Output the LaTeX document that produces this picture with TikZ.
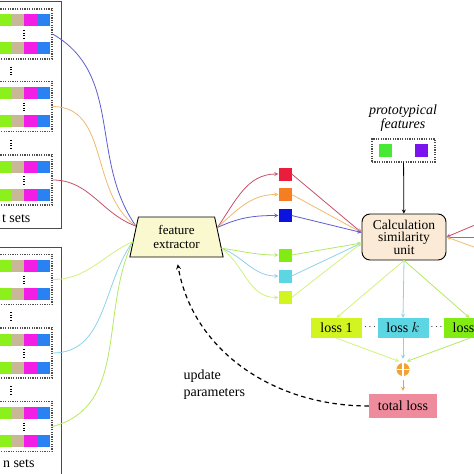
\documentclass[tikz,border=0pt]{standalone}
\usepackage{fontspec}
\setmainfont{Liberation Serif}
\usetikzlibrary{positioning}
\usetikzlibrary{arrows,shapes}
\usetikzlibrary{shapes.geometric}
\definecolor{barGreen}{HTML}{8CF01C}
\definecolor{barTan}{HTML}{C9B897}
\definecolor{barPink}{HTML}{F21EE6}
\definecolor{barBlue}{HTML}{2A82F2}
\definecolor{sqRed}{HTML}{EA1E3C}
\definecolor{sqOrange}{HTML}{F67E22}
\definecolor{sqBlue}{HTML}{0C12E0}
\definecolor{sqGreen}{HTML}{82EC12}
\definecolor{sqCyan}{HTML}{5CD6E2}
\definecolor{sqLime}{HTML}{D2F522}
\definecolor{lnRed}{HTML}{C8506A}
\definecolor{lnOrange}{HTML}{F2B86E}
\definecolor{lnBlue}{HTML}{5C5CD2}
\definecolor{lnLime}{HTML}{D2F07C}
\definecolor{lnCyan}{HTML}{8ED2EA}
\definecolor{lnGreen}{HTML}{B4E860}
\definecolor{lnPurple}{HTML}{7A6CE6}
\definecolor{extFill}{HTML}{FAF8CF}
\definecolor{csuFill}{HTML}{FBEBD6}
\definecolor{lossPink}{HTML}{EE8C9E}
\definecolor{protoGreen}{HTML}{46EA34}
\definecolor{protoPurple}{HTML}{7A14EE}
\definecolor{plusOrange}{HTML}{F2A234}
\tikzstyle{setframe}=[draw=black!70,line width=0.9pt]
\tikzstyle{setgroup}=[draw=black!70,dash pattern=on 1.2pt off 1.2pt,line width=1.2pt,minimum width=58pt,minimum height=50pt,inner sep=0pt]
\tikzstyle{vdots}=[line width=1.3pt,dash pattern=on 1.2pt off 1.4pt]
\tikzstyle{featsq}=[rectangle,minimum size=13pt,inner sep=0pt]
\tikzstyle{extractor}=[trapezium,trapezium left angle=78,trapezium right angle=78,draw,line width=0.9pt,fill=extFill,minimum height=40pt,minimum width=79pt,inner sep=1pt,align=center,font=\fontsize{13}{14}\selectfont]
\tikzstyle{calcunit}=[rectangle,rounded corners=8pt,draw,line width=0.9pt,fill=csuFill,minimum width=84pt,minimum height=46pt,inner sep=0pt,align=center,font=\fontsize{13.5}{12.5}\selectfont]
\tikzstyle{lossbox}=[rectangle,minimum width=51pt,minimum height=20pt,inner sep=0pt,font=\fontsize{14}{16}\selectfont]
\tikzstyle{txt}=[font=\fontsize{14}{17}\selectfont]
\tikzstyle{link}=[draw,line width=0.8pt]
\tikzstyle{flow}=[draw,line width=0.8pt,->,>=stealth]

\begin{document}
\begin{tikzpicture}[x=1pt,y=-1pt]
\useasboundingbox (0,0) rectangle (474,474);
\clip (0,0) rectangle (474,474);

% sets on the left (cut by the crop)
    \draw[setframe] (-10,1) rectangle (61,228);
    \draw[setframe] (-10,247) rectangle (61,490);
    \node[txt,anchor=base west] (topSets) at (-1.5,222) {t sets};
    \node[txt,anchor=base west] (botSets) at (-0.5,467) {n sets};

  \foreach \y in {14,42,87,115,161,189,260,288,334,362,407,435} {
        \fill[barGreen] (-10,\y) rectangle (12,\y+12);
        \fill[barTan] (12,\y) rectangle (24,\y+12);
        \fill[barPink] (24,\y) rectangle (37,\y+12);
        \fill[barBlue] (37,\y) rectangle (50,\y+12);
  }

  \foreach \pos/\name in {{(23,34)/s1}, {(23,106.5)/s2}, {(23,180)/s3}, {(23,279.5)/q1}, {(23,353)/q2}, {(23,426.5)/q3}}
        \node[setgroup] (\name) at \pos {};

  \foreach \y in {34,106.5,180,279.5,353,426.5}
        \draw[vdots] (24,\y-4) -- (24,\y+4);
  \foreach \y in {70.5,144,316,390}
        \draw[vdots] (11,\y-4) -- (11,\y+4);

% extractor and features
    \node[extractor] (fe) at (176.5,237) {feature\\extractor};

  \foreach \pos/\name/\col in {{(285,174)/fR/sqRed}, {(285,194.5)/fO/sqOrange}, {(285,215.5)/fB/sqBlue}, {(285,255)/fG/sqGreen}, {(285,276)/fC/sqCyan}, {(285,297.5)/fL/sqLime}}
        \node[featsq,fill=\col] (\name) at \pos {};

    % sets into the extractor
  \foreach \source/\dest/\col/\o/\i in {s1.east/fe.165/lnBlue/-30/125, s2.east/fe.165/lnOrange/0/145, s3.east/fe.165/lnRed/0/160, q1.east/fe.186/lnLime/0/205, q2.east/fe.186/lnCyan/0/235, q3.east/fe.186/lnGreen/15/245}
          \path[link,\col] (\source) to[out=\o,in=\i] (\dest);

    % extractor to feature squares
  \foreach \source/\dest/\col/\o in {fe.13/fR/lnRed/55, fe.13/fO/lnOrange/42, fe.13/fB/lnBlue/25, fe.-14/fG/lnGreen/-8, fe.-14/fC/lnCyan/-22, fe.-14/fL/lnLime/-38}
          \path[flow,\col] (\source) to[out=\o,in=180] (\dest.west);

% similarity unit
    \node[calcunit] (csu) at (404,237) {Calculation\\similarity\\unit};

    \node[draw=black!70,dash pattern=on 1.2pt off 1.2pt,line width=1.2pt,minimum width=63pt,minimum height=23pt] (proto) at (403.5,150.5) {};
    \node[featsq,fill=protoGreen] (pG) at (385,150.5) {};
    \node[featsq,fill=protoPurple] (pP) at (421.5,150.5) {};
    \node[align=center,font=\fontsize{14}{12}\selectfont\itshape] (protoLbl) at (403,118) {prototypical\\features};
    \path[flow,black] (proto) -- (csu);

  \foreach \source/\dest/\col in {fR/csu.174/lnRed, fO/csu.174/lnOrange, fB/csu.174/lnBlue, fG/csu.188/lnGreen, fC/csu.188/lnCyan, fL/csu.188/lnLime}
          \path[flow,\col] (\source.east) -- (\dest);

    % from the other branch (cut by the crop)
    \coordinate (oR) at (482,222);
    \coordinate (oP) at (482,237);
    \coordinate (oO) at (482,250);
  \foreach \source/\col in {oR/lnRed, oP/lnPurple, oO/lnOrange}
          \path[flow,\col] (\source) -- (csu.east);

% losses
    \node[lossbox,fill=sqLime] (loss1) at (336.5,328) {loss 1};
    \node[lossbox,fill=sqCyan] (lossk) at (403,328) {loss $k$};
    \node[lossbox,fill=sqGreen] (lossn) at (469.5,328) {loss $n$};
    \node (dots1) at (370,327) {$\cdots$};
    \node (dots2) at (436.5,327) {$\cdots$};

  \foreach \dest/\col in {loss1/lnLime, lossk/lnCyan, lossn/lnGreen}
          \path[flow,\col] (csu.south) -- (\dest.north);

    \node[circle,fill=plusOrange,minimum size=13pt,inner sep=0pt,
          path picture={\draw[white,line width=1.2pt] (path picture bounding box.north) -- (path picture bounding box.south) (path picture bounding box.west) -- (path picture bounding box.east);}] (sum) at (403,369.5) {};

  \foreach \source/\col in {loss1/lnLime, lossk/lnCyan, lossn/lnGreen}
          \path[flow,\col,shorten >=4pt] (\source.south) -- (sum.north);

    \node[lossbox,fill=lossPink,minimum width=68pt,minimum height=24pt] (total) at (403,406) {total loss};
    \path[flow,plusOrange,shorten <=4pt,shorten >=3pt] (sum) -- (total);

    % back to the extractor
    \path[draw,line width=1.2pt,dash pattern=on 4.5pt off 3.5pt,->,>=stealth,shorten >=7pt] (total.west) to[out=180,in=-80] (fe.south);
    \node[txt,anchor=west,align=left] (upd) at (180,385) {update\\parameters};

\end{tikzpicture}
\end{document}
